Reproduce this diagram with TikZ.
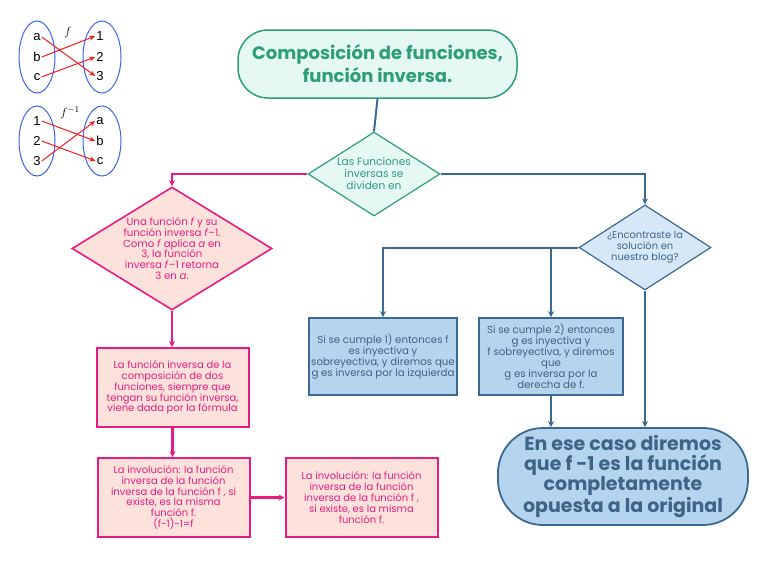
\documentclass[tikz,border=0pt]{standalone}
\usepackage{fontspec}
\setmainfont{Poppins}
\newfontfamily\arialf{Liberation Sans}
\usetikzlibrary{shapes.geometric,arrows.meta}
\definecolor{grn}{RGB}{46,158,118}
\definecolor{mint}{RGB}{230,248,243}
\definecolor{pnk}{RGB}{232,28,128}
\definecolor{pfill}{RGB}{253,226,220}
\definecolor{bdark}{RGB}{60,105,145}
\definecolor{btext}{RGB}{62,100,135}
\definecolor{bdfill}{RGB}{214,232,248}
\definecolor{bbfill}{RGB}{181,212,238}
\definecolor{ell}{RGB}{60,100,230}
\definecolor{redar}{RGB}{240,30,30}
\tikzset{
  titlebox/.style={draw=grn,fill=mint,line width=1.5pt,rounded corners=30pt,minimum width=279pt,minimum height=68pt,align=center,text=grn,font=\bfseries\fontsize{18}{23}\selectfont,inner sep=0pt},
  gdia/.style={diamond,draw=grn,fill=mint,line width=1.2pt,minimum width=132pt,minimum height=84pt,inner sep=0pt,aspect=1.57,align=center,text=grn,font=\fontsize{10.6}{12}\selectfont},
  pdia/.style={diamond,draw=pnk,fill=pfill,line width=1.6pt,minimum width=200pt,minimum height=123pt,inner sep=0pt,aspect=1.63,align=center,text=pnk,font=\fontsize{10.2}{10.8}\selectfont},
  pbox/.style={rectangle,draw=pnk,fill=pfill,line width=2pt,minimum width=152pt,minimum height=79pt,inner sep=0pt,align=center,text=pnk,font=\fontsize{10}{10.9}\selectfont},
  bdia/.style={diamond,draw=bdark,fill=bdfill,line width=1.2pt,minimum width=132pt,minimum height=85pt,inner sep=0pt,aspect=1.55,align=center,text=btext,font=\fontsize{9.9}{11}\selectfont},
  bbox/.style={rectangle,draw=bdark,fill=bbfill,line width=1.6pt,minimum height=77pt,inner sep=0pt,align=center,text=btext,font=\fontsize{10.2}{10.9}\selectfont},
  stad/.style={rectangle,draw=bdark,fill=bbfill,line width=1.8pt,rounded corners=45pt,minimum width=250pt,minimum height=97pt,inner sep=0pt,align=center,text=btext,font=\bfseries\fontsize{19}{20}\selectfont},
  bline/.style={draw=bdark,line width=2pt},
  pline/.style={draw=pnk,line width=2.2pt},
  tip/.style={-{Stealth[length=6pt,width=6pt]}},
  lab/.style={font=\arialf\fontsize{13}{14}\selectfont,inner sep=1pt},
  ellp/.style={draw=ell,line width=1pt},
  rar/.style={draw=redar,line width=1pt,-{Stealth[length=6pt,width=5pt]}}
}
\begin{document}
\begin{tikzpicture}[x=1pt,y=-1pt]
\useasboundingbox[fill=white] (0,0) rectangle (768,576);

% mapping diagrams
\draw[ellp] (37,57) ellipse [x radius=18,y radius=36];
\draw[ellp] (102,57) ellipse [x radius=19,y radius=36];
\node[lab] (a1) at (37,37) {a};
\node[lab] (b1) at (37,57) {b};
\node[lab] (c1) at (37,77) {c};
\node[lab] (n11) at (100,36) {1};
\node[lab] (n21) at (100,57) {2};
\node[lab] (n31) at (100,76) {3};
\node[inner sep=0pt,font=\fontsize{13}{14}\selectfont] (fl) at (68,32) {$f$};
\draw[rar] (a1.east) -- (n31.west);
\draw[rar] (b1.east) -- (n11.west);
\draw[rar] (c1.east) -- (n21.west);

\draw[ellp] (37,141) ellipse [x radius=18,y radius=35];
\draw[ellp] (102,141) ellipse [x radius=19,y radius=35];
\node[lab] (n12) at (37,121) {1};
\node[lab] (n22) at (37,141) {2};
\node[lab] (n32) at (37,161) {3};
\node[lab] (a2) at (100,121) {a};
\node[lab] (b2) at (100,141) {b};
\node[lab] (c2) at (100,161) {c};
\node[inner sep=0pt,font=\fontsize{13}{14}\selectfont] (fil) at (70,113) {$f^{-1}$};
\draw[rar] (n12.east) -- (b2.west);
\draw[rar] (n22.east) -- (c2.west);
\draw[rar] (n32.east) -- (a2.west);

% main nodes
\node[titlebox] (title) at (377.5,64) {Composición de funciones,\\función inversa.};
\node[gdia] (gd) at (374,174) {Las Funciones\\inversas se\\dividen en};
\node[pdia] (pd) at (172,248.5) {Una función \textit{f} y su\\función inversa \textit{f}–1.\\Como \textit{f} aplica \textit{a} en\\3, la función\\inversa \textit{f}–1 retorna\\3 en \textit{a}.};
\node[pbox] (pb1) at (172.5,387.5) {La función inversa de la\\composición de dos\\funciones, siempre que\\tengan su función inversa,\\viene dada por la fórmula};
\node[pbox] (pb2) at (173.5,497.5) {La involución: la función\\inversa de la función\\inversa de la función f , si\\existe, es la misma\\función f.\\(f-1)-1=f};
\node[pbox] (pb3) at (361.5,497.5) {La involución: la función\\inversa de la función\\inversa de la función f ,\\si existe, es la misma\\función f.};
\node[bdia] (bd) at (645,247.5) {¿Encontraste la\\solución en\\nuestro blog?};
\node[bbox,minimum width=148pt] (bb1) at (383,356.5) {Si se cumple 1) entonces f\\es inyectiva y\\sobreyectiva, y diremos que\\g es inversa por la izquierda};
\node[bbox,minimum width=144pt] (bb2) at (551,356.5) {Si se cumple 2) entonces\\g es inyectiva y\\f sobreyectiva, y diremos\\que\\g es inversa por la\\derecha de f.};
\node[stad] (st) at (623,476.5) {En ese caso diremos\\que f -1 es la función\\completamente\\opuesta a la original};

% connectors
\draw[bline] (title.south) -- (gd.north);
\draw[pline,tip] (gd.west) -| (pd.north);
\draw[bline,tip] (gd.east) -| (bd.north);
\draw[bline,tip] (bd.west) -| (bb1.north);
\coordinate (br) at (bd.west -| bb2.north);
\draw[bline,tip] (br) -- (bb2.north);
\draw[bline,tip] (bd.south) -- (bd.south |- st.north);
\draw[bline,tip] (bb2.south) -- (bb2.south |- st.north);
\draw[pline,tip] (pd.south) -- (pd.south |- pb1.north);
\draw[pline,tip] (pb1.south) -- (pb1.south |- pb2.north);
\draw[pline,tip] (pb2.east) -- (pb3.west);
\end{tikzpicture}
\end{document}
